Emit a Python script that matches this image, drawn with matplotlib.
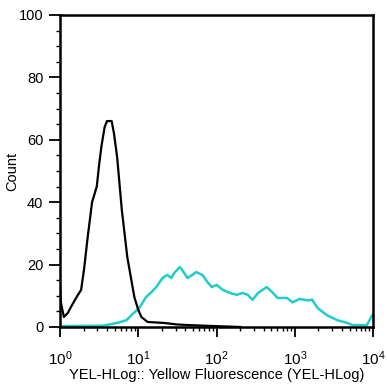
import numpy as np
import matplotlib
matplotlib.use("Agg")
import matplotlib.pyplot as plt
from matplotlib.ticker import LogLocator, MultipleLocator

plt.rcParams['font.family'] = ['Liberation Sans', 'DejaVu Sans']

# control histogram (black), log10 of fluorescence vs count
ctrl_log = [0.00, 0.01, 0.05, 0.10, 0.14, 0.21, 0.27, 0.31, 0.35, 0.41, 0.47,
            0.50, 0.53, 0.57, 0.60, 0.66, 0.69, 0.73, 0.79, 0.86, 0.95, 1.00,
            1.04, 1.12, 1.33, 1.50, 1.65, 1.97, 2.30]
ctrl_cnt = [13.5, 8.0, 3.2, 4.5, 6.4, 9.5, 11.9, 19.0, 28.0, 40.0, 45.0,
            52.0, 58.0, 64.0, 66.0, 66.0, 62.0, 54.5, 37.5, 22.4, 9.6, 5.5,
            3.2, 1.6, 1.3, 0.8, 0.6, 0.3, 0.0]

# stained sample (cyan)
yel_log = [0.00, 0.54, 0.67, 0.76, 0.85, 0.92, 1.01, 1.10, 1.17, 1.23, 1.31,
           1.37, 1.42, 1.46, 1.53, 1.56, 1.63, 1.69, 1.74, 1.82, 1.88, 1.94,
           2.00, 2.08, 2.17, 2.26, 2.33, 2.40, 2.46, 2.53, 2.64, 2.71, 2.78,
           2.90, 2.97, 3.06, 3.17, 3.22, 3.29, 3.41, 3.54, 3.67, 3.74, 3.92, 3.99]
yel_cnt = [0.3, 0.4, 1.0, 1.5, 2.2, 4.0, 6.0, 9.6, 11.2, 12.8, 15.7,
           16.7, 15.7, 17.3, 19.2, 18.3, 15.7, 16.7, 17.6, 16.7, 14.5, 12.8,
           13.5, 11.9, 10.9, 10.3, 10.9, 10.3, 8.7, 10.9, 12.8, 11.2, 9.3,
           9.3, 7.9, 9.0, 8.5, 8.8, 6.1, 3.8, 2.2, 1.3, 0.6, 0.6, 3.8]

fig = plt.figure(figsize=(3.87, 3.91), dpi=100)
ax = fig.add_axes([0.155, 0.1637, 0.809, 0.798])

ax.plot(10 ** np.array(yel_log), yel_cnt, color='#20cccc', lw=1.8)
ax.plot(10 ** np.array(ctrl_log), ctrl_cnt, color='black', lw=1.6)

ax.set_xscale('log')
ax.set_xlim(1, 1e4)
ax.set_ylim(0, 100)
ax.xaxis.set_major_locator(LogLocator(base=10, numticks=10))
ax.xaxis.set_minor_locator(LogLocator(base=10, subs=np.arange(2, 10), numticks=50))
ax.yaxis.set_major_locator(MultipleLocator(20))
ax.yaxis.set_minor_locator(MultipleLocator(5))

for s in ax.spines.values():
    s.set_linewidth(1.8)

ax.tick_params(axis='y', which='major', length=8, width=1.3, labelsize=10.5, pad=4)
ax.tick_params(axis='y', which='minor', length=3, width=1.0)
ax.tick_params(axis='x', which='major', length=7, width=1.3, labelsize=11, pad=9)
ax.tick_params(axis='x', which='minor', length=3, width=1.0)

ax.set_xlabel('YEL-HLog:: Yellow Fluorescence (YEL-HLog)', fontsize=10.5, labelpad=0)
ax.set_ylabel('Count', fontsize=10.5)
ax.yaxis.set_label_coords(-0.13, 0.5)

fig.savefig('out.png', dpi=100)
